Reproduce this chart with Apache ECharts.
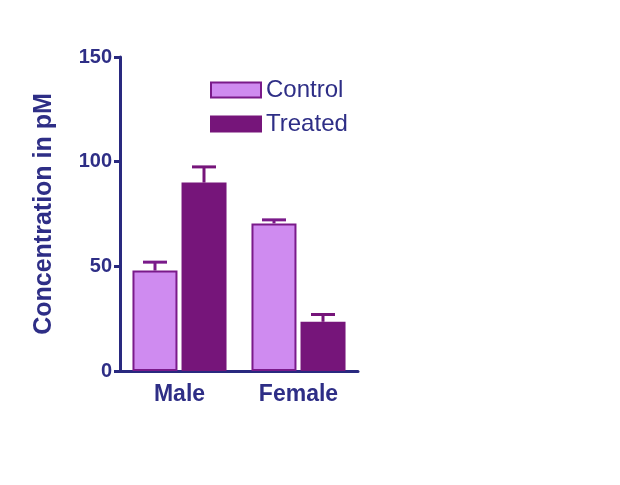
<!DOCTYPE html>
<html lang="en">
<head>
  <meta charset="UTF-8">
  <title>Concentration in pM</title>
  <script src="https://cdn.jsdelivr.net/npm/echarts@6/dist/echarts.min.js"></script>
  <style>
    html, body { margin: 0; padding: 0; background: #ffffff; }
    #chart { width: 620px; height: 485px; }
  </style>
</head>
<body>
  <div id="chart"></div>
  <script>
    // values
    const categories = ['Male', 'Female'];
    const controlMean = [48, 70.5];
    const controlSem = [4, 1.7];
    const treatedMean = [90, 23.5];
    const treatedSem = [7.5, 3.5];
    const yTicks = [0, 50, 100, 150];

    const axisColor = '#29297f';
    const textColor = '#2e2e86';
    const lightPurple = '#cf8bf0';
    const darkPurple = '#76157a';
    const edgePurple = '#7a1a8a';

    const barWidth = 45;
    const pairGap = 4;

    // error bar (upward only) drawn on top of each bar
    function errorBar(offset, color) {
      return function (params, api) {
        const base = api.coord([api.value(0), api.value(1)]);
        const top = api.coord([api.value(0), api.value(1) + api.value(2)]);
        const x = base[0] + offset;
        const cap = 12;
        return {
          type: 'group',
          children: [
            { type: 'line', shape: { x1: x, y1: base[1], x2: x, y2: top[1] },
              style: { stroke: color, lineWidth: 3 } },
            { type: 'line', shape: { x1: x - cap, y1: top[1], x2: x + cap, y2: top[1] },
              style: { stroke: color, lineWidth: 3 } }
          ]
        };
      };
    }

    const chart = echarts.init(document.getElementById('chart'));
    const half = (barWidth + pairGap) / 2;

    chart.setOption({
      animation: false,
      grid: { left: 120, right: 262, top: 57, bottom: 114 },
      legend: {
        orient: 'vertical',
        left: 210,
        top: 78,
        padding: 0,
        icon: 'rect',
        itemWidth: 50,
        itemHeight: 15,
        itemGap: 10,
        data: ['Control', 'Treated'],
        textStyle: { fontFamily: 'Liberation Sans', fontSize: 24, color: textColor }
      },
      xAxis: {
        type: 'category',
        data: categories,
        axisLine: { lineStyle: { color: axisColor, width: 3 } },
        axisTick: { alignWithLabel: true, length: 6, lineStyle: { color: axisColor, width: 3 } },
        axisLabel: { fontFamily: 'Liberation Sans', fontWeight: 'bold', fontSize: 23, color: textColor, margin: 12 }
      },
      yAxis: {
        type: 'value',
        min: yTicks[0],
        max: yTicks[yTicks.length - 1],
        interval: yTicks[1] - yTicks[0],
        name: 'Concentration in pM',
        nameLocation: 'middle',
        nameGap: 63,
        nameTextStyle: { fontFamily: 'Liberation Sans', fontWeight: 'bold', fontSize: 25, color: textColor },
        splitLine: { show: false },
        axisLine: { show: true, lineStyle: { color: axisColor, width: 3 } },
        axisTick: { show: true, length: 6, lineStyle: { color: axisColor, width: 3 } },
        axisLabel: { fontFamily: 'Liberation Sans', fontWeight: 'bold', fontSize: 20, color: textColor, margin: 8 }
      },
      series: [
        {
          name: 'Control',
          type: 'bar',
          data: controlMean,
          barWidth: barWidth,
          barGap: '9%',
          itemStyle: { color: lightPurple, borderColor: edgePurple, borderWidth: 2 }
        },
        {
          name: 'Treated',
          type: 'bar',
          data: treatedMean,
          barWidth: barWidth,
          itemStyle: { color: darkPurple, borderColor: darkPurple, borderWidth: 2 }
        },
        {
          type: 'custom',
          renderItem: errorBar(-half, edgePurple),
          data: categories.map((c, i) => [i, controlMean[i], controlSem[i]]),
          encode: { x: 0, y: 1 },
          z: 1
        },
        {
          type: 'custom',
          renderItem: errorBar(half, darkPurple),
          data: categories.map((c, i) => [i, treatedMean[i], treatedSem[i]]),
          encode: { x: 0, y: 1 },
          z: 1
        }
      ]
    });
  </script>
</body>
</html>
